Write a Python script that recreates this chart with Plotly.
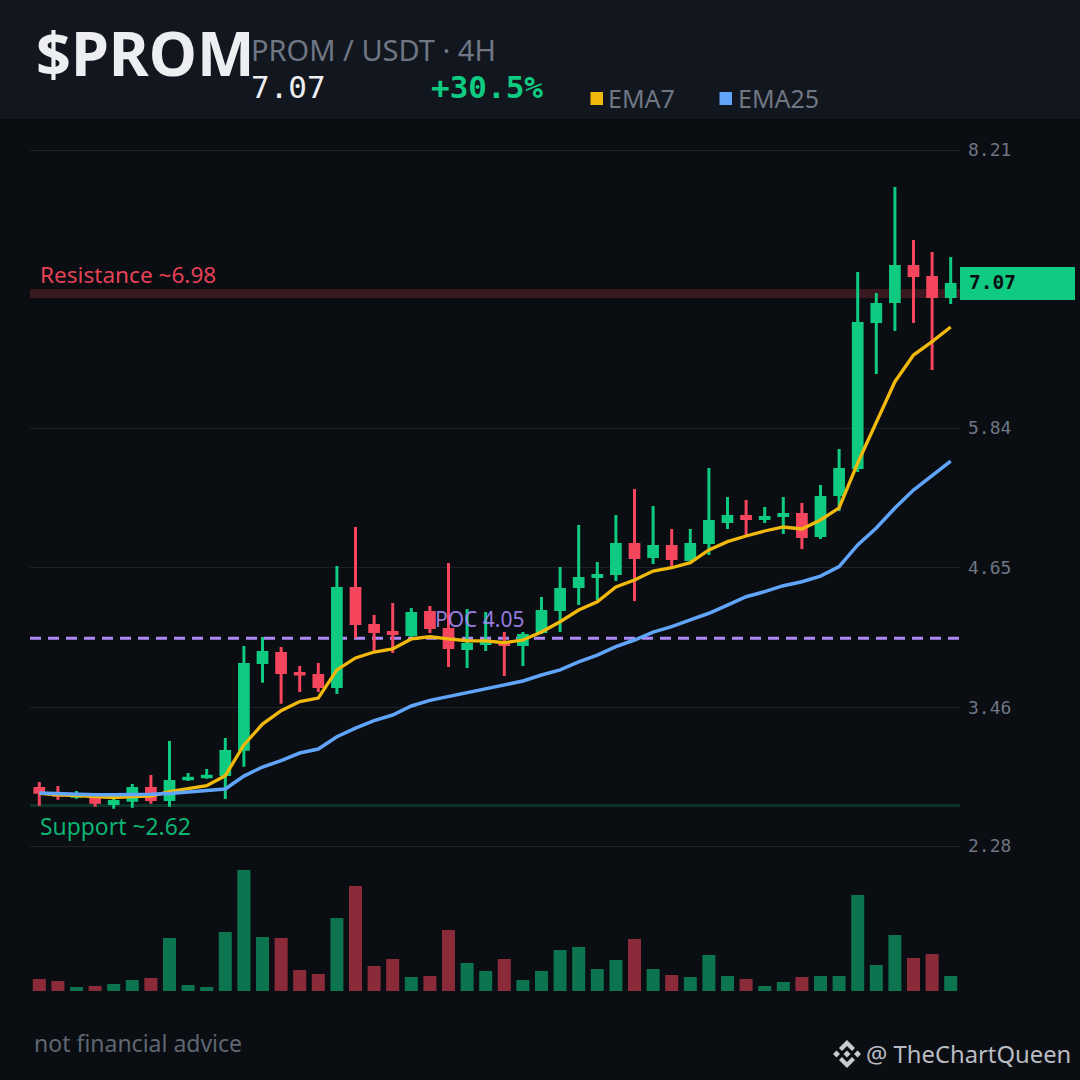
import plotly.graph_objects as go

candle_index = list(range(50))
open_px = [2.770,2.719,2.704,2.702,2.642,2.670,2.770,2.676,2.853,2.871,2.889,3.105,3.844,3.920,3.750,3.733,3.639,4.474,4.159,4.099,
           4.082,4.270,4.125,3.963,4.005,4.014,3.997,4.108,4.295,4.491,4.576,4.602,4.849,4.747,4.832,4.721,4.866,5.045,5.087,5.070,
           5.096,5.104,4.926,5.275,5.505,6.749,6.919,7.217,7.124,6.962]
close_px = [2.738,2.713,2.716,2.653,2.659,2.770,2.676,2.830,2.857,2.875,3.085,3.826,3.929,3.758,3.746,3.639,4.474,4.176,4.108,4.090,
            4.261,4.142,3.971,3.997,4.022,3.997,4.074,4.278,4.465,4.559,4.585,4.849,4.738,4.832,4.730,4.849,5.045,5.087,5.070,5.079,
            5.104,4.917,5.249,5.488,6.732,6.894,7.217,7.141,6.962,7.064]
high_px = [2.825,2.791,2.749,2.715,2.723,2.808,2.885,3.175,2.902,2.936,3.200,3.984,4.061,3.976,3.814,3.839,4.666,4.998,4.248,4.350,
           4.308,4.325,4.691,4.299,4.274,4.103,4.103,4.402,4.657,5.015,4.700,5.100,5.322,5.177,4.981,4.981,5.501,5.254,5.228,5.168,
           5.254,5.202,5.356,5.663,7.170,6.992,7.895,7.443,7.341,7.298]
low_px = [2.623,2.675,2.683,2.615,2.598,2.606,2.640,2.615,2.834,2.854,2.681,2.956,3.671,3.492,3.592,3.592,3.575,4.052,3.942,3.924,
          4.061,4.095,3.805,3.797,3.942,3.729,3.814,4.086,4.103,4.333,4.376,4.538,4.367,4.683,4.666,4.708,4.759,4.981,4.930,5.032,
          4.938,4.811,4.896,5.134,5.467,6.302,6.668,6.736,6.336,6.898]
ema7 = [2.729,2.715,2.709,2.700,2.692,2.700,2.706,2.743,2.772,2.794,2.879,3.141,3.319,3.433,3.510,3.541,3.780,3.882,3.933,3.959,
        4.044,4.063,4.044,4.029,4.027,4.012,4.035,4.103,4.191,4.291,4.361,4.487,4.546,4.623,4.651,4.694,4.802,4.873,4.921,4.964,
        4.998,4.981,5.058,5.160,5.543,5.895,6.236,6.463,6.577,6.702]
ema25 = [2.732,2.726,2.723,2.717,2.717,2.717,2.721,2.727,2.738,2.749,2.766,2.876,2.953,3.007,3.072,3.106,3.211,3.285,3.348,3.396,
         3.473,3.521,3.554,3.586,3.626,3.652,3.686,3.737,3.780,3.848,3.907,3.978,4.035,4.103,4.149,4.206,4.263,4.333,4.404,4.447,
         4.498,4.532,4.580,4.660,4.845,4.989,5.160,5.313,5.441,5.560]
volume = [12,10,4,5,7,11,13,53,6,4,59,121,54,53,21,17,73,105,25,32,
          14,15,61,28,20,32,11,20,41,44,22,31,52,22,16,14,36,15,12,5,
          9,14,15,15,96,26,56,33,37,15]
price_ticks = [8.21, 5.84, 4.65, 3.46, 2.28]
tick_labels = ["8.21", "5.84", "4.65", "3.46", "2.28"]
resistance_band = (6.949, 7.026)
support_band = (2.612, 2.638)
poc_level = 4.05

GREEN = "#0ecb81"
RED = "#f6465d"
YELLOW = "#f0b90b"
BLUE = "#60a5fa"
PURPLE = "#ad8af8"
BG = "#0a0d11"
HEADER = "#12161e"
MUTED = "#6f7684"
MONO = "DejaVu Sans Mono"
SANS = "Noto Sans"

vol_colors = [GREEN if c >= o else RED for o, c in zip(open_px, close_px)]


def px(x):
    return x / 1080


def py(y):
    return 1 - y / 1080


def poly(points):
    return "M" + " L".join(f"{px(x):.5f},{py(y):.5f}" for x, y in points) + " Z"


def label(x, y, text, size, color, family=SANS, bold=False):
    return dict(
        xref="paper", yref="paper", x=px(x), y=py(y), xanchor="left", yanchor="middle",
        text=f"<b>{text}</b>" if bold else text, showarrow=False, align="left",
        font=dict(size=size, color=color, family=family), borderpad=0, borderwidth=0,
    )


fig = go.Figure()
fig.add_trace(go.Bar(
    x=candle_index, y=volume, xaxis="x2", yaxis="y2", width=0.7,
    marker=dict(color=vol_colors, opacity=0.55, line=dict(width=0)), hoverinfo="skip", showlegend=False,
))
fig.add_trace(go.Candlestick(
    x=candle_index, open=open_px, high=high_px, low=low_px, close=close_px,
    xaxis="x", yaxis="y", whiskerwidth=0, showlegend=False, hoverinfo="skip",
    increasing=dict(line=dict(color=GREEN, width=3), fillcolor=GREEN),
    decreasing=dict(line=dict(color=RED, width=3), fillcolor=RED),
))
fig.add_trace(go.Scatter(x=candle_index, y=ema7, mode="lines", line=dict(color=YELLOW, width=3.3),
                         xaxis="x", yaxis="y", hoverinfo="skip", showlegend=False))
fig.add_trace(go.Scatter(x=candle_index, y=ema25, mode="lines", line=dict(color=BLUE, width=3.5),
                         xaxis="x", yaxis="y", hoverinfo="skip", showlegend=False))

shapes = [
    dict(type="rect", xref="paper", yref="paper", x0=0, x1=1, y0=py(119), y1=1,
         fillcolor=HEADER, line_width=0, layer="below"),
    dict(type="rect", xref="x", yref="y", x0=-0.5, x1=49.5, y0=resistance_band[0], y1=resistance_band[1],
         fillcolor="rgba(246,70,93,0.2)", line_width=0, layer="below"),
    dict(type="rect", xref="x", yref="y", x0=-0.5, x1=49.5, y0=support_band[0], y1=support_band[1],
         fillcolor="rgba(14,203,129,0.2)", line_width=0, layer="below"),
    dict(type="line", xref="x", yref="y", x0=-0.5, x1=49.5, y0=poc_level, y1=poc_level,
         line=dict(color=PURPLE, width=3, dash="11px,7px"), layer="below"),
    dict(type="rect", xref="paper", yref="paper", x0=px(960), x1=px(1075), y0=py(300), y1=py(267),
         fillcolor=GREEN, line_width=0),
    dict(type="rect", xref="paper", yref="paper", x0=px(590.5), x1=px(603), y0=py(105), y1=py(92),
         fillcolor=YELLOW, line_width=0),
    dict(type="rect", xref="paper", yref="paper", x0=px(719.5), x1=px(732), y0=py(105), y1=py(92),
         fillcolor=BLUE, line_width=0),
]
LOGO = "#c9cbd0"
cx, cy = 847, 1054
logo_parts = [
    [(cx, cy - 14), (cx + 8, cy - 6), (cx + 5, cy - 3), (cx, cy - 8), (cx - 5, cy - 3), (cx - 8, cy - 6)],
    [(cx, cy + 14), (cx + 8, cy + 6), (cx + 5, cy + 3), (cx, cy + 8), (cx - 5, cy + 3), (cx - 8, cy + 6)],
    [(cx, cy - 3.5), (cx + 3.5, cy), (cx, cy + 3.5), (cx - 3.5, cy)],
    [(cx - 14, cy), (cx - 10.5, cy - 3.5), (cx - 7, cy), (cx - 10.5, cy + 3.5)],
    [(cx + 14, cy), (cx + 10.5, cy - 3.5), (cx + 7, cy), (cx + 10.5, cy + 3.5)],
]
for part in logo_parts:
    shapes.append(dict(type="path", xref="paper", yref="paper", path=poly(part), fillcolor=LOGO, line_width=0))

annotations = [
    label(36, 52.5, "$PROM", 61, "#eceef2", bold=True),
    label(250.5, 49, "PROM / USDT · 4H", 29, MUTED),
    label(251, 87, "7.07", 31, "#eceef2", family=MONO),
    label(430.5, 87, "+30.5%", 31, GREEN, family=MONO, bold=True),
    label(608, 98, "EMA7", 25, MUTED),
    label(738, 98, "EMA25", 25, MUTED),
    label(40, 274, "Resistance ~6.98", 22.6, "rgba(246,70,93,0.95)"),
    label(40, 826, "Support ~2.62", 22.9, "rgba(14,203,129,0.9)"),
    label(435, 619, "POC 4.05", 21, "rgba(167,139,250,0.9)"),
    label(968.5, 282.5, "7.07", 19.5, BG, family=MONO, bold=True),
    label(34, 1043, "not financial advice", 23, "#5f6773"),
    label(866, 1053.5, "@ TheChartQueen", 23.8, "#b9bcc3"),
]

fig.update_layout(
    width=1080, height=1080, autosize=False, margin=dict(l=0, r=0, t=0, b=0, pad=0, autoexpand=False),
    paper_bgcolor=BG, plot_bgcolor="rgba(0,0,0,0)", showlegend=False, boxgap=0.33,
    barmode="overlay", dragmode=False, shapes=shapes, annotations=annotations,
    xaxis=dict(domain=[px(30), px(960)], range=[-0.5, 49.5], anchor="y", showgrid=False, zeroline=False,
               showticklabels=False, ticks="", showline=False, rangeslider=dict(visible=False), fixedrange=True),
    xaxis2=dict(domain=[px(30), px(960)], range=[-0.5, 49.5], anchor="y2", showgrid=False, zeroline=False,
                showticklabels=False, ticks="", showline=False, rangeslider=dict(visible=False), fixedrange=True),
    yaxis=dict(domain=[py(850), py(120)], range=[9.488 - 0.00852 * 850, 9.488 - 0.00852 * 120], side="right",
               anchor="x", tickmode="array", tickvals=price_ticks, ticktext=tick_labels,
               tickfont=dict(family=MONO, size=18, color=MUTED), ticks="", ticklabelstandoff=7,
               gridcolor="#1e2228", gridwidth=1, zeroline=False, showline=False, fixedrange=True),
    yaxis2=dict(domain=[py(991), py(860)], range=[0, 131], anchor="x2", showgrid=False, zeroline=False,
                showticklabels=False, ticks="", showline=False, fixedrange=True),
)

fig.write_html("out.html", config={"displayModeBar": False},
               post_script="var s=document.documentElement.style;s.margin='0';s.padding='0';"
                           "var b=document.body.style;b.margin='0';b.padding='0';b.background='" + BG + "';")
